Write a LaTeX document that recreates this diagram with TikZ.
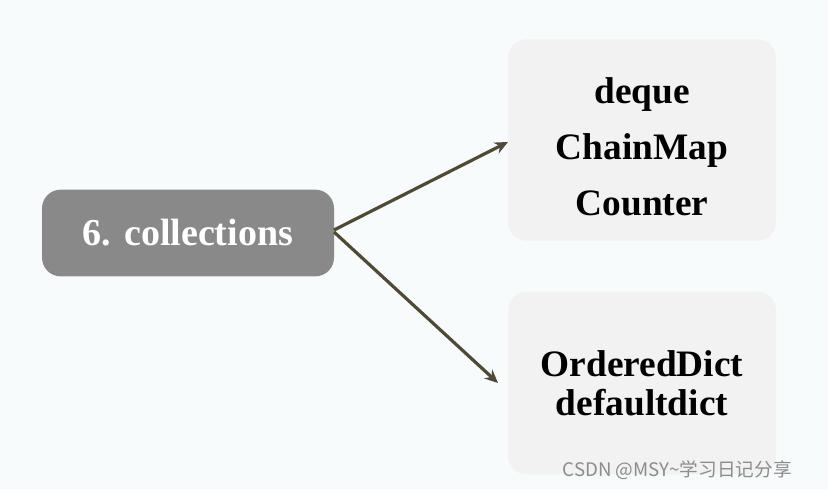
\documentclass[tikz,border=0pt]{standalone}
\usepackage{fontspec}
\setmainfont{Liberation Serif}
\newfontfamily\cjk{Noto Sans CJK SC}
\usetikzlibrary{arrows.meta}
\definecolor{bg}{HTML}{F7FBFC}
\definecolor{leftbox}{HTML}{898989}
\definecolor{rbox}{HTML}{F2F2F2}
\definecolor{arr}{HTML}{4F4A33}
\tikzset{
  box/.style={rounded corners=14pt, inner sep=0pt},
  conn/.style={draw=arr, line width=2.4pt, -{Stealth[length=10pt,width=9pt]}},
}
\begin{document}
\begin{tikzpicture}[x=0.75pt,y=-0.75pt]
\fill[bg] (0,0) rectangle (828,489);
\useasboundingbox (0,0) rectangle (828,489);
\node[box, fill=leftbox, minimum width=219pt, minimum height=65pt] (src) at (188,233) {};
\node[text=white, font=\bfseries\fontsize{28.5}{30}\selectfont] (srct) at (188,233) {6. collections};
\node[box, fill=rbox, minimum width=201pt, minimum height=151pt] (top) at (642,140) {};
\node[align=center, font=\bfseries\fontsize{28}{42}\selectfont] (topt) at (642,147) {deque\\ChainMap\\Counter};
\node[box, fill=rbox, minimum width=201pt, minimum height=137pt] (bot) at (642,383) {};
\node[align=center, font=\bfseries\fontsize{28}{29}\selectfont] (bott) at (642,383) {OrderedDict\\defaultdict};
\coordinate (s1) at (334,230);
\coordinate (s2) at (334,232);
\coordinate (e1) at (508,142);
\coordinate (e2) at (498,383);
\draw[conn] (s1) -- (e1);
\draw[conn] (s2) -- (e2);
\node[anchor=west, text=black!45, font=\cjk\fontsize{14}{16}\selectfont] (wm) at (558,470) {CSDN @MSY\textasciitilde 学习日记分享};
\end{tikzpicture}
\end{document}
